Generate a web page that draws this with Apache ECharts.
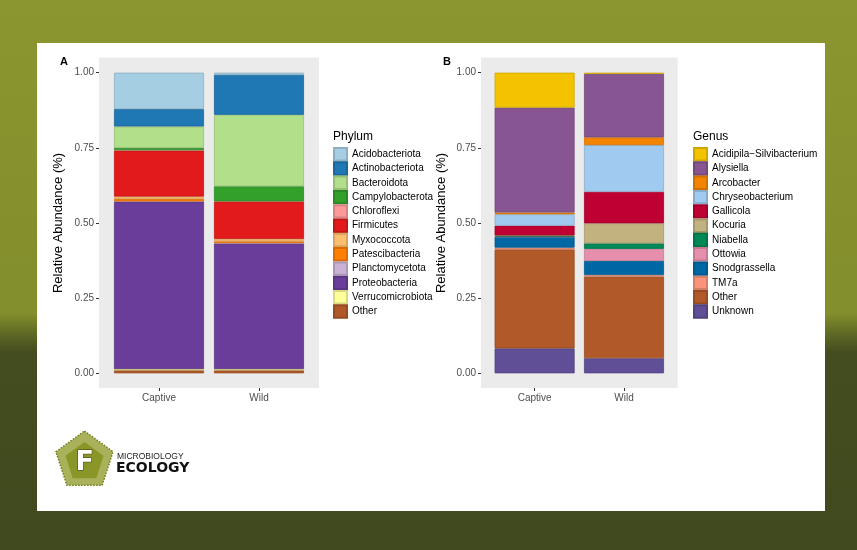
<!DOCTYPE html>
<html>
<head>
<meta charset="utf-8">
<style>
  html, body { margin: 0; padding: 0; background: #fff; }
  #chart { width: 857px; height: 550px; }
</style>
<script src="https://cdn.jsdelivr.net/npm/echarts@6/dist/echarts.min.js"></script>
</head>
<body>
<div id="chart"></div>
<script>
// samples on the x axis
var groups = ['Captive', 'Wild'];
var groupPos = [1, 2];
var yTickStep = 0.25;

// panel A, phylum level (legend order = top of stack first)
var phylumNames = ['Acidobacteriota', 'Actinobacteriota', 'Bacteroidota', 'Campylobacterota',
  'Chloroflexi', 'Firmicutes', 'Myxococcota', 'Patescibacteria', 'Planctomycetota',
  'Proteobacteria', 'Verrucomicrobiota', 'Other'];
var phylumColors = ['#A6CEE3', '#1F78B4', '#B2DF8A', '#33A02C', '#FB9A99', '#E31A1C',
  '#FDBF6F', '#FF7F00', '#CAB2D6', '#6A3D9A', '#FFFF99', '#B15928'];
var phylumCaptive = [0.121, 0.058, 0.071, 0.008, 0.001, 0.153, 0.008, 0.008, 0.001, 0.557, 0.004, 0.010];
var phylumWild    = [0.007, 0.133, 0.238, 0.050, 0.001, 0.124, 0.008, 0.006, 0.001, 0.418, 0.004, 0.010];

// panel B, genus level
var genusNames = ['Acidipila\u2212Silvibacterium', 'Alysiella', 'Arcobacter', 'Chryseobacterium',
  'Gallicola', 'Kocuria', 'Niabella', 'Ottowia', 'Snodgrassella', 'TM7a', 'Other', 'Unknown'];
var genusColors = ['#F3C300', '#875692', '#F38400', '#A1CAF1', '#BE0032', '#C2B280',
  '#008856', '#E68FAC', '#0067A5', '#F99379', '#B15928', '#604E97'];
var genusCaptive = [0.116, 0.349, 0.006, 0.038, 0.032, 0.001, 0.003, 0.001, 0.036, 0.006, 0.329, 0.083];
var genusWild    = [0.004, 0.211, 0.026, 0.155, 0.105, 0.067, 0.018, 0.040, 0.047, 0.005, 0.272, 0.050];

var FONT = '"Liberation Sans", Arial, Helvetica, sans-serif';

function darker(hex, k) {
  var n = parseInt(hex.slice(1), 16);
  var r = Math.round(((n >> 16) & 255) * k);
  var g = Math.round(((n >> 8) & 255) * k);
  var b = Math.round((n & 255) * k);
  return 'rgb(' + r + ',' + g + ',' + b + ')';
}

// ggplot stacks the first level on top, echarts stacks the first series at the bottom
function buildSeries(names, colors, captive, wild, idx, barWidth) {
  var out = [];
  for (var i = names.length - 1; i >= 0; i--) {
    out.push({
      name: names[i],
      type: 'bar',
      stack: 'panel' + idx,
      xAxisIndex: idx,
      yAxisIndex: idx,
      barWidth: barWidth,
      silent: true,
      data: [captive[i], wild[i]],
      itemStyle: { color: colors[i], borderColor: darker(colors[i], 0.85), borderWidth: 0.8 }
    });
  }
  return out;
}

function yAxisFor(idx, offset, gap) {
  return {
    type: 'value', gridIndex: idx, min: 0, max: 1, interval: yTickStep, offset: offset,
    name: 'Relative Abundance (%)', nameLocation: 'middle', nameRotate: 90, nameGap: gap,
    nameTextStyle: { fontFamily: FONT, fontSize: 13, color: '#000' },
    axisLine: { show: false },
    axisTick: { show: true, length: 3, lineStyle: { color: '#333' } },
    axisLabel: { margin: 5, fontFamily: FONT, fontSize: 10, color: '#4d4d4d',
      formatter: function (v) { return v.toFixed(2); } },
    splitLine: { show: false }
  };
}

// ticks + labels for the samples, on the panel grid (ggplot discrete range 0.4..2.6)
function sampleAxis(gridIdx) {
  return {
    type: 'value', gridIndex: gridIdx, min: 0.4, max: 2.6, position: 'bottom',
    axisLine: { show: false },
    splitLine: { show: false },
    axisTick: { show: true, length: 3, customValues: groupPos, lineStyle: { color: '#333' } },
    axisLabel: { margin: 5, fontFamily: FONT, fontSize: 10, color: '#4d4d4d', customValues: groupPos,
      formatter: function (v) { return groups[Math.round(v) - 1]; } }
  };
}

function legendFor(names, left) {
  return {
    orient: 'vertical', left: left, top: 147, padding: 0,
    itemWidth: 13, itemHeight: 12.4, itemGap: -0.1, icon: 'rect',
    selectedMode: false,
    data: names,
    textStyle: { fontFamily: FONT, fontSize: 10, color: '#000' }
  };
}

// pentagon for the journal logo
function pentagon(cx, cy, r) {
  var pts = [];
  for (var i = 0; i < 5; i++) {
    var a = -Math.PI / 2 + i * 2 * Math.PI / 5;
    pts.push([cx + r * Math.cos(a), cy + r * Math.sin(a)]);
  }
  return pts;
}

var chart = echarts.init(document.getElementById('chart'), null, { renderer: 'canvas' });

chart.setOption({
  animation: false,
  textStyle: { fontFamily: FONT },
  title: [
    { text: 'A', left: 60, top: 56, padding: 0, textStyle: { fontFamily: FONT, fontSize: 11, fontWeight: 'bold', color: '#000' } },
    { text: 'B', left: 443, top: 56, padding: 0, textStyle: { fontFamily: FONT, fontSize: 11, fontWeight: 'bold', color: '#000' } },
    { text: 'Phylum', left: 333, top: 131, padding: 0, textStyle: { fontFamily: FONT, fontSize: 12, fontWeight: 'normal', color: '#000' } },
    { text: 'Genus', left: 693, top: 131, padding: 0, textStyle: { fontFamily: FONT, fontSize: 12, fontWeight: 'normal', color: '#000' } }
  ],
  grid: [
    // bar grids, sized so that category centres fall at ggplot positions
    { left: 109, top: 72.7, width: 200, height: 300.6 },
    { left: 489.9, top: 72.7, width: 178.8, height: 300.6 },
    // grey panels
    { left: 99, top: 57.4, width: 220, height: 330.6, show: true, backgroundColor: '#EBEBEB', borderWidth: 0 },
    { left: 481, top: 57.4, width: 196.7, height: 330.6, show: true, backgroundColor: '#EBEBEB', borderWidth: 0 }
  ],
  xAxis: [
    { type: 'category', gridIndex: 0, data: groups, show: false },
    { type: 'category', gridIndex: 1, data: groups, show: false },
    sampleAxis(2),
    sampleAxis(3)
  ],
  yAxis: [
    yAxisFor(0, 10, 34),
    yAxisFor(1, 8.9, 33),
    { type: 'value', gridIndex: 2, min: 0, max: 1, show: false },
    { type: 'value', gridIndex: 3, min: 0, max: 1, show: false }
  ],
  legend: [legendFor(phylumNames, 333), legendFor(genusNames, 693)],
  series: buildSeries(phylumNames, phylumColors, phylumCaptive, phylumWild, 0, 90)
    .concat(buildSeries(genusNames, genusColors, genusCaptive, genusWild, 1, 80)),
  graphic: [
    { type: 'rect', z: -30, silent: true, shape: { x: 0, y: 0, width: 857, height: 550 },
      style: { fill: new echarts.graphic.LinearGradient(0, 0, 0, 1, [
        { offset: 0, color: '#8b962f' },
        { offset: 0.57, color: '#838e2c' },
        { offset: 0.61, color: '#5c6624' },
        { offset: 0.64, color: '#444d1f' },
        { offset: 1, color: '#414a1e' }
      ]) } },
    { type: 'rect', z: -20, silent: true, shape: { x: 37, y: 43, width: 788, height: 468 }, style: { fill: '#ffffff' } },
    // logo
    { type: 'polygon', z: 5, silent: true, shape: { points: pentagon(84.5, 461, 30) },
      style: { fill: '#a9b25a', stroke: '#6f7a1e', lineWidth: 1.5, lineDash: [1.5, 1.5] } },
    { type: 'polygon', z: 6, silent: true, shape: { points: pentagon(84.5, 462, 20) },
      style: { fill: '#8a9628' } },
    { type: 'text', z: 7, silent: true, left: 75, top: 449,
      style: { text: 'F', fill: '#ffffff', stroke: '#3d3d1a', lineWidth: 1, font: 'bold 27px "DejaVu Sans", sans-serif' } },
    { type: 'text', z: 7, silent: true, left: 117, top: 452,
      style: { text: 'MICROBIOLOGY', fill: '#222', font: '8.5px "Liberation Sans Narrow", "Liberation Sans", sans-serif' } },
    { type: 'text', z: 7, silent: true, left: 116, top: 461,
      style: { text: 'ECOLOGY', fill: '#111', font: 'bold 14px "DejaVu Sans", sans-serif' } }
  ]
});
</script>
</body>
</html>
